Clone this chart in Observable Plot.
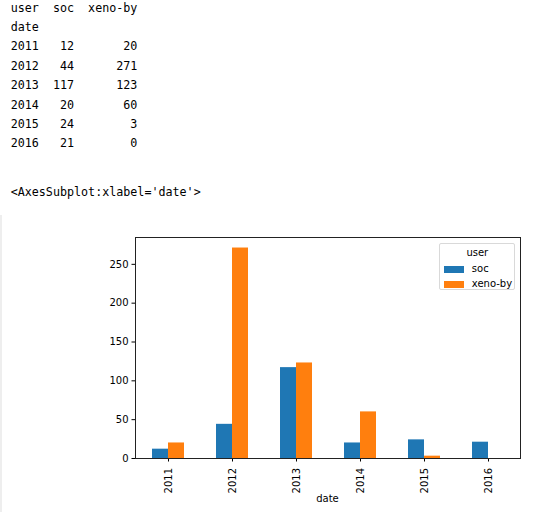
<!DOCTYPE html>
<html lang="en">

<head>
    <meta charset="UTF-8">
    <title>soc vs xeno-by per year</title>
    <script src="https://cdn.jsdelivr.net/npm/d3@7"></script>
    <script src="https://cdn.jsdelivr.net/npm/@observablehq/plot@0.6"></script>
    <style>
        body {
            margin: 0;
            background: #fff;
            width: 546px;
            height: 512px;
            position: relative;
            overflow: hidden;
        }

        pre {
            margin: 0;
            position: absolute;
            left: 10.7px;
            font-family: "DejaVu Sans Mono", "Liberation Mono", monospace;
            font-size: 11.7px;
            line-height: 19.4px;
            color: #000;
        }

        #table { top: -1.4px; }
        #repr { top: 183.3px; }

        #strip {
            position: absolute;
            left: 0;
            top: 215px;
            width: 2px;
            bottom: 0;
            background: #eeeeee;
        }

        #chart {
            position: absolute;
            left: 0;
            top: 220px;
        }

        #legend {
            position: absolute;
            left: 439.3px;
            top: 242.7px;
            width: 74px;
            height: 45.6px;
            border: 1px solid #d9d9d9;
            border-radius: 2px;
            background: rgba(255, 255, 255, 0.8);
            font-family: "DejaVu Sans", sans-serif;
            font-size: 10px;
            color: #000;
        }

        #legend .title {
            text-align: center;
            margin-top: 3px;
            height: 15px;
            line-height: 12px;
        }

        #legend .row {
            display: flex;
            align-items: center;
            height: 15px;
            line-height: 12px;
        }

        #legend .swatch {
            width: 20px;
            height: 7px;
            margin-left: 3.5px;
            margin-right: 8px;
        }
    </style>
</head>

<body>
    <div id="strip"></div>
    <pre id="table"></pre>
    <pre id="repr">&lt;AxesSubplot:xlabel='date'&gt;</pre>
    <div id="chart"></div>
    <div id="legend"></div>

    <script>
        const dates = ["2011", "2012", "2013", "2014", "2015", "2016"];
        const users = ["soc", "xeno-by"];
        const soc = [12, 44, 117, 20, 24, 21];
        const xenoBy = [20, 271, 123, 60, 3, 0];
        const colors = ["#1f77b4", "#ff7f0e"];
        const yTicks = [0, 50, 100, 150, 200, 250];

        // the printed DataFrame above the plot
        const lines = [
            "user  soc  xeno-by",
            "date",
            ...dates.map((d, i) => d + String(soc[i]).padStart(5) + String(xenoBy[i]).padStart(9))
        ];
        document.getElementById("table").textContent = lines.join("\n");

        const rows = dates.flatMap((d, i) => [
            { date: d, user: users[0], value: soc[i] },
            { date: d, user: users[1], value: xenoBy[i] }
        ]);

        const ymax = d3.max(rows, d => d.value) * 1.05;

        const chart = Plot.plot({
            width: 546,
            height: 292,
            marginLeft: 135,
            marginRight: 26,
            marginTop: 17,
            marginBottom: 54,
            style: { fontFamily: "DejaVu Sans, sans-serif", fontSize: "10px", color: "#000", background: "transparent" },
            x: { domain: dates, padding: 0, label: null },
            y: { domain: [0, ymax], label: null },
            marks: [
                Plot.barY(rows.filter(d => d.user === "soc"), {
                    x: "date", y: "value", fill: colors[0], insetLeft: 16, insetRight: 32
                }),
                Plot.barY(rows.filter(d => d.user === "xeno-by"), {
                    x: "date", y: "value", fill: colors[1], insetLeft: 32, insetRight: 16
                }),
                Plot.axisY({ ticks: yTicks, tickSize: 3.5, tickPadding: 3.5, label: null, stroke: "#000", fontSize: 10 }),
                Plot.axisX({ tickSize: 3.5, tickPadding: 6, tickRotate: -90, label: null, stroke: "#000", fontSize: 10 }),
                Plot.frame({ stroke: "#222", strokeWidth: 1 })
            ]
        });
        document.getElementById("chart").appendChild(chart);

        // axis title under the rotated tick labels
        const xl = document.createElement("div");
        xl.textContent = "date";
        Object.assign(xl.style, {
            position: "absolute", left: "327.5px", top: "493px", transform: "translateX(-50%)",
            fontFamily: "DejaVu Sans, sans-serif", fontSize: "10px", color: "#000"
        });
        document.body.appendChild(xl);

        const legend = document.getElementById("legend");
        legend.innerHTML = `<div class="title">user</div>` +
            users.map((u, i) => `<div class="row"><div class="swatch" style="background:${colors[i]}"></div>${u}</div>`).join("");
    </script>
</body>

</html>
